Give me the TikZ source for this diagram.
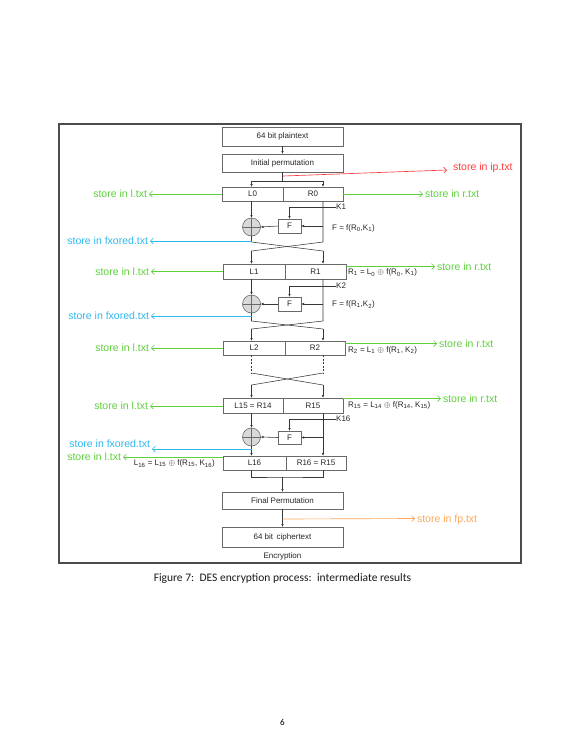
\documentclass[tikz,border=0pt]{standalone}
\usepackage{fontspec}
\setmainfont{Liberation Sans}
\newfontfamily\capfont{Carlito}
\usetikzlibrary{arrows.meta,calc}
\definecolor{gr}{RGB}{95,208,60}
\definecolor{bl}{RGB}{45,185,240}
\definecolor{rd}{RGB}{255,60,60}
\definecolor{og}{RGB}{255,168,90}
\definecolor{ln}{RGB}{55,55,55}
\definecolor{bx}{RGB}{105,105,105}
\begin{document}
\begin{tikzpicture}[x=1pt,y=-1pt,
  box/.style={draw=bx,line width=0.6pt,inner sep=0pt,outer sep=0pt,font=\fontsize{8}{9}\selectfont,text=black!85},
  conn/.style={draw=ln,line width=0.55pt},
  arr/.style={conn,-{Latex[length=3pt,width=2.4pt]}},
  dsh/.style={conn,dash pattern=on 2pt off 1.5pt},
  gtxt/.style={font=\fontsize{10.5}{12}\selectfont,inner sep=0pt,outer sep=2pt,text height=7.5pt,text depth=0.5pt},
  carr/.style={line width=0.65pt,-{Straight Barb[length=3pt,width=6pt]}},
  lbl/.style={font=\fontsize{8}{9}\selectfont,inner sep=0pt,text=black!85},
  xor/.style={circle,draw=bx,fill=black!15,minimum size=18pt,inner sep=0pt,outer sep=0pt,line width=0.6pt},
]
\useasboundingbox (0,0) rectangle (562,729);
\fill[white] (0,0) rectangle (562,729);
\draw[draw=black!70,line width=1.2pt] (59,124) rectangle (521,563);

% columns
\coordinate (cl) at (251.5,0);
\coordinate (cr) at (323,0);

% boxes
\node[box,minimum width=121pt,minimum height=19pt] (pt) at (282.5,136.5) {64 bit plaintext};
\node[box,minimum width=121pt,minimum height=18pt] (ip) at (282.5,163) {Initial permutation};
\node[box,minimum width=61pt,minimum height=14pt] (L0) at (252.5,194) {L0};
\node[box,minimum width=60pt,minimum height=14pt] (R0) at (313,194) {R0};
\node[box,minimum width=62pt,minimum height=15pt] (L1) at (254,271.5) {L1};
\node[box,minimum width=61pt,minimum height=15pt] (R1) at (315.5,271.5) {R1};
\node[box,minimum width=62pt,minimum height=14pt] (L2) at (254,348) {L2};
\node[box,minimum width=60pt,minimum height=14pt] (R2) at (315,348) {R2};
\node[box,minimum width=60pt,minimum height=15pt] (L15) at (253,405.5) {L15 = R14};
\node[box,minimum width=60pt,minimum height=15pt] (R15) at (313,405.5) {R15};
\node[box,minimum width=63pt,minimum height=14pt] (L16) at (254.5,463) {L16};
\node[box,minimum width=60pt,minimum height=14pt] (R16) at (316,463) {R16 = R15};
\node[box,minimum width=121pt,minimum height=17pt] (fp) at (282.5,500.5) {Final Permutation};
\node[box,minimum width=121pt,minimum height=20pt] (ct) at (282.5,537) {64 bit\, ciphertext};
\node[lbl] (enc) at (282.5,556) {Encryption};

\node[box,minimum width=23pt,minimum height=14pt] (f1) at (289.5,226) {F};
\node[box,minimum width=23pt,minimum height=14pt] (f2) at (289.5,304) {F};
\node[box,minimum width=23pt,minimum height=13pt] (f3) at (289.5,437.5) {F};

\foreach \n/\y in {x1/227,x2/304,x3/437}{
  \node[xor] (\n) at (251.5,\y) {};
  \draw[draw=bx,line width=0.5pt] (\n.north) -- (\n.south) (\n.west) -- (\n.east);
}

% key labels
\node[lbl,anchor=west] (k1) at (336,207) {K1};
\node[lbl,anchor=west] (k2) at (336,286) {K2};
\node[lbl,anchor=west] (k16) at (336,419) {K16};
\node[lbl,anchor=west] (ff1) at (332,228) {F = f(R\textsubscript{0},K\textsubscript{1})};
\node[lbl,anchor=west] (ff2) at (332,304.5) {F = f(R\textsubscript{1},K\textsubscript{2})};
\node[lbl,anchor=west] (eq1) at (348,272.5) {R\textsubscript{1} = L\textsubscript{0} $\oplus$ f(R\textsubscript{0}, K\textsubscript{1})};
\node[lbl,anchor=west] (eq2) at (348,350) {R\textsubscript{2} = L\textsubscript{1} $\oplus$ f(R\textsubscript{1}, K\textsubscript{2})};
\node[lbl,anchor=west] (eq15) at (348,405.5) {R\textsubscript{15} = L\textsubscript{14} $\oplus$ f(R\textsubscript{14}, K\textsubscript{15})};
\node[lbl,anchor=east] (eq16) at (215,463.5) {L\textsubscript{16} = L\textsubscript{15} $\oplus$ f(R\textsubscript{15}, K\textsubscript{16})};

% main flow
\draw[arr] (pt.south) -- (ip.north);
\coordinate (sp) at (282.5,181);
\draw[conn] (ip.south) -- (sp);
\draw[arr] (sp) -| (L0.north -| cl);
\draw[arr] (sp) -| (R0.north -| cr);

% round 1
\draw[arr] (L0.south -| cl) -- (x1.north);
\draw[arr] (k1.west) -| (f1.north);
\draw[arr] (cr |- f1.east) -- (f1.east);
\draw[arr] (f1.west) -- (x1.east);
\coordinate (a1) at (251.5,242); \coordinate (b1) at (323,242);
\coordinate (c1) at (251.5,251); \coordinate (d1) at (323,251);
\draw[conn] (x1.south) -- (a1) -- (d1);
\draw[conn] (R0.south -| cr) -- (b1) -- (c1);
\draw[arr] (c1) -- (L1.north -| cl);
\draw[arr] (d1) -- (R1.north -| cr);

% round 2
\draw[arr] (L1.south -| cl) -- (x2.north);
\draw[arr] (k2.west) -| (f2.north);
\draw[arr] (cr |- f2.east) -- (f2.east);
\draw[arr] (f2.west) -- (x2.east);
\coordinate (a2) at (251.5,321); \coordinate (b2) at (323,321);
\coordinate (c2) at (251.5,329); \coordinate (d2) at (323,329);
\draw[conn] (x2.south) -- (a2) -- (d2);
\draw[conn] (R1.south -| cr) -- (b2) -- (c2);
\draw[arr] (c2) -- (L2.north -| cl);
\draw[arr] (d2) -- (R2.north -| cr);

% dashed gap
\coordinate (a3) at (251.5,373); \coordinate (b3) at (323,373);
\coordinate (c3) at (251.5,385); \coordinate (d3) at (323,385);
\draw[dsh] (L2.south -| cl) -- (a3);
\draw[dsh] (R2.south -| cr) -- (b3);
\draw[conn] (a3) -- (d3);
\draw[conn] (b3) -- (c3);
\draw[arr] (c3) -- (L15.north -| cl);
\draw[arr] (d3) -- (R15.north -| cr);

% round 16
\draw[arr] (L15.south -| cl) -- (x3.north);
\draw[arr] (x3.south) -- (L16.north -| cl);
\draw[arr] (R15.south -| cr) -- (R16.north -| cr);
\draw[arr] (k16.west) -| (f3.north);
\draw[arr] (cr |- f3.east) -- (f3.east);
\draw[arr] (f3.west) -- (x3.east);

% output
\coordinate (m) at (282.5,477);
\draw[conn] (L16.south -| cl) |- (m) -| (R16.south -| cr);
\draw[arr] (m) -- (fp.north);
\draw[arr] (fp.south) -- (ct.north);

% store labels
\node[gtxt,text=rd,anchor=west] (rip) at (451,167) {store in ip.txt};
\coordinate (rs) at (283,176); \coordinate (rt) at (447,170);
\draw[carr,draw=rd] (rs) -- (rt);

\node[gtxt,text=gr,anchor=east] (gl0) at (149,194) {store in l.txt};
\draw[carr,draw=gr] (L0.west) -- (gl0.east);
\node[gtxt,text=gr,anchor=west] (gr0) at (423,194) {store in r.txt};
\draw[carr,draw=gr] (R0.east) -- (gr0.west);

\coordinate (bx1) at (251.5,241);
\node[gtxt,text=bl,anchor=east] (fx1) at (150,241) {store in fxored.txt};
\draw[carr,draw=bl] (bx1) -- (fx1.east);

\node[gtxt,text=gr,anchor=east] (gl1) at (151,272) {store in l.txt};
\draw[carr,draw=gr] (L1.west) -- (gl1.east |- L1.west);
\node[gtxt,text=gr,anchor=west] (gr1) at (435,266.5) {store in r.txt};
\draw[carr,draw=gr] (R1.east |- gr1.west) -- (gr1.west);

\coordinate (bx2) at (251.5,316);
\node[gtxt,text=bl,anchor=east] (fx2) at (151,316) {store in fxored.txt};
\draw[carr,draw=bl] (bx2) -- (fx2.east);

\node[gtxt,text=gr,anchor=east] (gl2) at (151,348) {store in l.txt};
\draw[carr,draw=gr] (L2.west) -- (gl2.east);
\node[gtxt,text=gr,anchor=west] (gr2) at (437,343.5) {store in r.txt};
\draw[carr,draw=gr] (R2.east |- gr2.west) -- (gr2.west);

\node[gtxt,text=gr,anchor=east] (gl15) at (150,406) {store in l.txt};
\draw[carr,draw=gr] (L15.west |- gl15.east) -- (gl15.east);
\node[gtxt,text=gr,anchor=west] (gr15) at (441,398.5) {store in r.txt};
\draw[carr,draw=gr] (R15.east |- gr15.west) -- (gr15.west);

\coordinate (bx3) at (251.5,449);
\node[gtxt,text=bl,anchor=east] (fx3) at (152,444) {store in fxored.txt};
\draw[carr,draw=bl] (bx3) -- (fx3.east |- bx3);

\node[gtxt,text=gr,anchor=east] (gl16) at (123,457) {store in l.txt};
\draw[carr,draw=gr] (L16.west |- gl16.east) -- (gl16.east);

\coordinate (os) at (282.5,519);
\node[gtxt,text=og,anchor=west] (ofp) at (415,518.5) {store in fp.txt};
\draw[carr,draw=og] (os) -- (ofp.west);

% caption and page number
\node[font=\capfont\fontsize{11.5}{13}\selectfont,text=black!90] (cap) at (282.5,578) {Figure 7:\, DES encryption process:\, intermediate results};
\node[font=\capfont\fontsize{9}{11}\selectfont,anchor=south,inner sep=0pt] (pg) at (282.5,725.5) {6};
\end{tikzpicture}
\end{document}
